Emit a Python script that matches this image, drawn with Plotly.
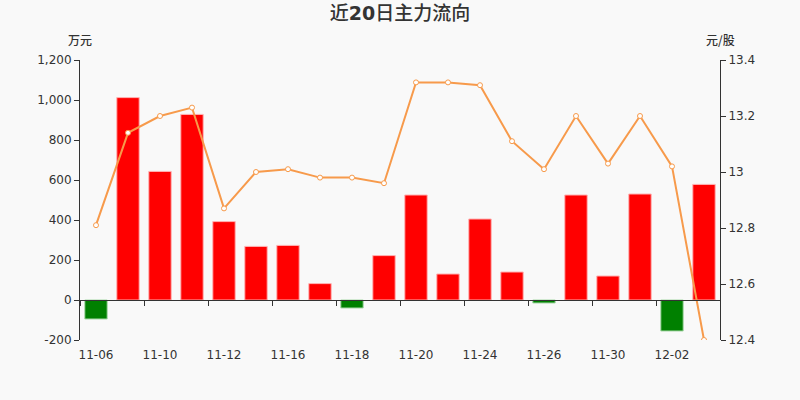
import plotly.graph_objects as go

dates = ["11-06", "11-09", "11-10", "11-11", "11-12", "11-13", "11-16", "11-17", "11-18", "11-19",
         "11-20", "11-23", "11-24", "11-25", "11-26", "11-27", "11-30", "12-01", "12-02", "12-03"]
flow = [-95, 1012, 643, 928, 392, 268, 273, 82, -40, 222,
        525, 130, 405, 140, -15, 525, 120, 530, -155, 578]
price = [12.81, 13.14, 13.20, 13.23, 12.87, 13.00, 13.01, 12.98, 12.98, 12.96,
         13.32, 13.32, 13.31, 13.11, 13.01, 13.20, 13.03, 13.20, 13.02, 12.40]
left_ticks = [-200, 0, 200, 400, 600, 800, 1000, 1200]
left_text = ["-200", "0", "200", "400", "600", "800", "1,000", "1,200"]
right_ticks = [12.4, 12.6, 12.8, 13.0, 13.2, 13.4]
right_text = ["12.4", "12.6", "12.8", "13", "13.2", "13.4"]

xs = list(range(len(dates)))
bar_colors = ["#ff0000" if v >= 0 else "#008000" for v in flow]
bar_lines = ["#ffb3b3" if v >= 0 else "#a8d8a8" for v in flow]

fig = go.Figure()
fig.add_trace(go.Bar(x=xs, y=flow, marker=dict(color=bar_colors, line=dict(color=bar_lines, width=1)),
                     width=0.7, yaxis="y", hoverinfo="y"))
fig.add_trace(go.Scatter(x=xs, y=price, yaxis="y2", mode="lines+markers",
                         line=dict(color="#f79a4b", width=2),
                         marker=dict(size=5, color="#ffffff", line=dict(color="#f79a4b", width=1)),
                         hoverinfo="y"))

axis_font = dict(family="DejaVu Sans", size=12, color="#333333")
fig.update_layout(
    width=800, height=400,
    margin=dict(l=80, r=80, t=60, b=60, autoexpand=False),
    paper_bgcolor="#f9f9f9", plot_bgcolor="#f9f9f9",
    showlegend=False,
    title=dict(text="近<b>20</b>日主力流向", x=0.5, xanchor="center", y=1 - 13.5 / 400, yanchor="middle",
               font=dict(family="DejaVu Sans, Noto Sans CJK SC", size=19, color="#333333", weight=500)),
    xaxis=dict(range=[-0.5, len(dates) - 0.5], tickmode="array", tickvals=xs[::2], ticktext=dates[::2],
               ticks="", showgrid=False, zeroline=False, showline=True, linecolor="#333333", linewidth=1,
               anchor="free", position=1 / 7, ticklabelstandoff=44, tickfont=axis_font,
               minor=dict(tickmode="linear", tick0=-0.5, dtick=2, ticks="outside", ticklen=5,
                          tickcolor="#333333", tickwidth=1, showgrid=False)),
    yaxis=dict(range=[-200, 1200], tickmode="array", tickvals=left_ticks, ticktext=left_text,
               ticks="outside", ticklen=5, tickcolor="#333333", showline=True, linecolor="#333333",
               showgrid=False, zeroline=False, tickfont=axis_font),
    yaxis2=dict(range=[12.4, 13.4], overlaying="y", side="right", tickmode="array",
                tickvals=right_ticks, ticktext=right_text, ticks="outside", ticklen=5,
                tickcolor="#333333", showline=True, linecolor="#333333", showgrid=False,
                zeroline=False, tickfont=axis_font),
    annotations=[
        dict(text="万元", x=0, xref="paper", xanchor="center", y=(400 - 60 - 39) / 280, yref="paper",
             yanchor="middle", showarrow=False,
             font=dict(family="Noto Sans CJK SC", size=12, color="#333333", weight=500)),
        dict(text="元/股", x=1, xref="paper", xanchor="center", y=(400 - 60 - 39) / 280, yref="paper",
             yanchor="middle", showarrow=False,
             font=dict(family="Noto Sans CJK SC", size=12, color="#333333", weight=500)),
    ],
)

fig.write_html("out.html", config={"displayModeBar": False},
               post_script="document.body.style.margin='0';document.body.style.background='#f9f9f9';")
